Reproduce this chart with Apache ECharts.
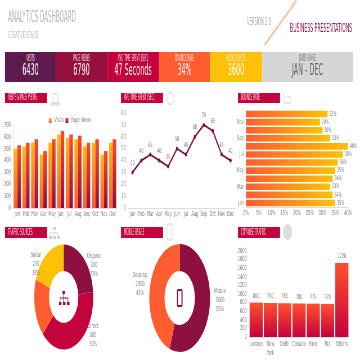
<!DOCTYPE html>
<html><head><meta charset="utf-8">
<style>
html,body{margin:0;padding:0;width:360px;height:360px;overflow:hidden;background:#fff}
#c{width:640px;height:360px;transform:scaleX(0.5625);transform-origin:0 0}
</style>
<script src="https://cdn.jsdelivr.net/npm/echarts@6/dist/echarts.min.js"></script>
</head><body><div id="c"></div>
<script>
const months=['Jan','Feb','Mar','Apr','May','Jun','Jul','Aug','Sep','Oct','Nov','Dec'];
const visits=[500,520,550,450,550,620,590,580,520,550,450,550];
const pageViews=[530,550,580,480,580,650,620,610,550,580,480,580];
const avgTime=[30,40,45,40,35,50,45,60,70,65,45,40];
const bounce=[35,34,33,34,35,36,38,40,33,30,29,32];
const sourceNames=['Organic','Direct','Referral','Social'];
const sourceValues=[300,500,230,250];
const sourceShares=[23,39,18,19];
const mobileNames=['Mobile','Desktop'];
const mobileValues=[3600,2900];
const mobileShares=[55,45];
const cities=['London','New York','Delhi','Canada','Paris','Rio','Others'];
const cityValues=[800,790,785,780,775,770,1720];
const kpiLabels=['VISITS','PAGE VIEWS','AVG TIME SPENT (SEC)','BOUNCE RATE','MOBILE VISITS','DATE RANGE'];
const kpiValues=['6430','6790','47 Seconds','34%','3600','JAN - DEC'];
const kpiColors=['#5e1a4c','#96103f','#c4023c','#ff5c30','#ffc107','#d6d6d6'];

const S=x=>x/0.5625; // real px -> design px
const F='"Liberation Sans Narrow", "DejaVu Sans Condensed", sans-serif';
const G='#808080';
const grad=(x,y,x2,y2,a,b)=>new echarts.graphic.LinearGradient(x,y,x2,y2,[{offset:0,color:a},{offset:1,color:b}]);
const plain=v=>String(v);
const axisBase={axisLine:{show:true,lineStyle:{color:'#ddd'}},axisTick:{show:false},splitLine:{show:false},
  axisLabel:{color:G,fontSize:7,margin:4,fontFamily:F,formatter:plain}};
const xLabel={color:G,fontSize:7,margin:3,fontFamily:F,interval:0};
const gr=[];
const T=(x,y,t,fs,c,sx,extra)=>gr.push({type:'text',x:S(x),y:y,scaleX:sx,silent:true,style:Object.assign({text:t,fontSize:fs,fill:c,fontFamily:F,align:'left',verticalAlign:'middle'},extra||{})});
const R=(x,y,w,h,c)=>gr.push({type:'rect',shape:{x:S(x),y:y,width:S(w),height:h},style:{fill:c},silent:true});
const stroke=(c)=>({fill:'none',stroke:c,lineWidth:1});

T(8,18,'ANALYTICS DASHBOARD',15,'#b8b8b8',0.74);
T(8,36,'CREATIVE VENUS',9,'#b8b8b8',0.77);
T(247,22,'VERSION 2.0',10,'#aaa',0.74);
T(290,29,'BUSINESS PRESENTATIONS',12.5,'#8c1a50',0.73);
gr.push({type:'line',shape:{x1:S(264),y1:45,x2:S(296),y2:0},style:{stroke:'#f2a63c',lineWidth:1},silent:true});
gr.push({type:'line',shape:{x1:S(265),y1:45,x2:S(297),y2:1},style:{stroke:'#c4586a',lineWidth:0.6},silent:true});

const kx=[5,56,107,159,210,262,353];
kpiLabels.forEach((l,i)=>{
  R(kx[i],52,kx[i+1]-kx[i],30,kpiColors[i]);
  const mid=(kx[i]+kx[i+1])/2, dark=i===5;
  T(mid,59,l,8,dark?'#777':'#f6e3e3',0.66,{align:'center'});
  T(mid,71.5,kpiValues[i],15,dark?'#666':'#fff',0.85,{align:'center'});
});
[[5,93,'VISITS & PAGE VIEWS',42,10],[121,93,'AVG TIME SPENT (SEC.)',42,10],[238,93,'BOUNCE RATE',42,10],
 [5,227,'TRAFFIC SOURCES',42,11],[121,227,'MOBILE USAGE',42,11],[238,227,'CITY-WISE TRAFFIC',42,11]].forEach(h=>{
  R(h[0],h[1],h[3],h[4],'#c4023c');
  T(h[0]+3,h[1]+h[4]/2,h[2],8,'#fbe3e3',0.66);
});
// small header icons
const L='#cfcfcf';
gr.push({type:'rect',shape:{x:S(53),y:94,width:S(5),height:9},style:stroke(L),silent:true});
gr.push({type:'rect',shape:{x:S(51),y:103,width:S(9),height:2},style:stroke(L),silent:true});
gr.push({type:'ellipse',shape:{cx:S(170.5),cy:98.5,rx:S(3.5),ry:6},style:stroke(L),silent:true});
gr.push({type:'polyline',shape:{points:[[S(284),93],[S(284),103],[S(291),103],[S(291),98],[S(287),96]]},style:stroke(L),silent:true});
// grey org chart icon
gr.push({type:'rect',shape:{x:S(53),y:227,width:S(3),height:3},style:{fill:L},silent:true});
[50,54,58].forEach(x=>gr.push({type:'rect',shape:{x:S(x-1),y:236,width:S(3),height:3},style:{fill:L},silent:true}));
gr.push({type:'polyline',shape:{points:[[S(50),236],[S(50),233],[S(58),233],[S(58),236]]},style:stroke(L),silent:true});
// grey phone icon
gr.push({type:'rect',shape:{x:S(167),y:224,width:S(5),height:16,r:1},style:stroke(L),silent:true});
// fingerprint
gr.push({type:'ellipse',shape:{cx:S(287.5),cy:232,rx:S(4.5),ry:8},style:{fill:'#dedede'},silent:true});
// donut centre icons
gr.push({type:'rect',shape:{x:S(62.5),y:291,width:S(2.5),height:3},style:{fill:'#b5003c'},silent:true});
[59,63,67].forEach(x=>gr.push({type:'rect',shape:{x:S(x),y:302,width:S(2.5),height:3},style:{fill:'#8c1040'},silent:true}));
gr.push({type:'polyline',shape:{points:[[S(60),302],[S(60),298],[S(68),298],[S(68),302]]},style:{fill:'none',stroke:'#8c1040',lineWidth:1},silent:true});
gr.push({type:'line',shape:{x1:S(63.7),y1:294,x2:S(63.7),y2:302},style:{stroke:'#8c1040',lineWidth:1},silent:true});
gr.push({type:'rect',shape:{x:S(177.5),y:290,width:S(4.5),height:16,r:1},style:{fill:'none',stroke:'#8c1040',lineWidth:2},silent:true});

const pieLabel=(shares)=>({show:true,position:'outside',color:G,fontSize:7,lineHeight:9,fontFamily:F,align:'center',
  formatter:p=>p.name+'\n'+p.value+'\n'+shares[p.dataIndex]+'%'});
const sourceLabelSpots=[[94,265],[93,335],[32,324],[36,264]];
const mobileLabelSpots=[[220,300],[140,284]];
const placeLabels=spots=>p=>({x:S(spots[p.dataIndex][0]),y:spots[p.dataIndex][1],align:'center',verticalAlign:'middle'});

const option={
  animation:false,
  backgroundColor:'#fff',
  textStyle:{fontFamily:F},
  legend:{top:112,left:S(46),itemWidth:5,itemHeight:5,itemGap:3,icon:'rect',
    textStyle:{color:G,fontSize:7,fontFamily:F},data:['Visits','Page Views']},
  grid:[
    {left:S(13),top:125,width:S(104),height:83},
    {left:S(128),top:113,width:S(107),height:95},
    {left:S(246),top:110,width:S(102),height:97},
    {left:S(249),top:251,width:S(100),height:86}
  ],
  xAxis:[
    Object.assign({},axisBase,{gridIndex:0,type:'category',data:months,axisLabel:xLabel}),
    Object.assign({},axisBase,{gridIndex:1,type:'category',data:months,axisLabel:xLabel}),
    Object.assign({},axisBase,{gridIndex:2,type:'value',min:0,max:40,interval:5,axisLabel:{color:G,fontSize:7,margin:3,fontFamily:F,formatter:'{value}%'}}),
    Object.assign({},axisBase,{gridIndex:3,type:'category',data:cities,axisLabel:{color:G,fontSize:7,lineHeight:9,margin:3,fontFamily:F,interval:0,
      formatter:v=>v.replace(' ','\n')}})
  ],
  yAxis:[
    Object.assign({},axisBase,{gridIndex:0,type:'value',min:0,max:700,interval:100}),
    Object.assign({},axisBase,{gridIndex:1,type:'value',min:0,max:80,interval:10,axisLine:{show:false}}),
    Object.assign({},axisBase,{gridIndex:2,type:'category',data:months,axisLabel:{color:G,fontSize:7,margin:4,fontFamily:F,interval:1}}),
    Object.assign({},axisBase,{gridIndex:3,type:'value',min:0,max:2000,interval:200,axisLine:{show:false}})
  ],
  series:[
    {name:'Visits',type:'bar',xAxisIndex:0,yAxisIndex:0,data:visits,barGap:'0%',barCategoryGap:'18%',
      itemStyle:{color:grad(0,0,0,1,'#ffb810','#ff5c30')}},
    {name:'Page Views',type:'bar',xAxisIndex:0,yAxisIndex:0,data:pageViews,
      itemStyle:{color:grad(0,0,0,1,'#ff4a28','#8c1040')}},
    {name:'Avg Time',type:'line',xAxisIndex:1,yAxisIndex:1,data:avgTime,symbol:'circle',symbolSize:4,
      lineStyle:{color:'#7d1040',width:2},itemStyle:{color:'#7d1040'},
      label:{show:true,position:'top',distance:4,color:G,fontSize:6.5,fontFamily:F}},
    {name:'Bounce',type:'bar',xAxisIndex:2,yAxisIndex:2,data:bounce,barCategoryGap:'18%',
      itemStyle:{color:grad(0,0,1,0,'#ff5c30','#ffc107')},
      label:{show:true,position:'right',distance:3,color:G,fontSize:6.5,fontFamily:F,formatter:'{c}%'}},
    {name:'City',type:'bar',xAxisIndex:3,yAxisIndex:3,data:cityValues,barCategoryGap:'8%',
      itemStyle:{color:grad(0,0,0,1,'#ff5030','#c4023c')},
      label:{show:true,position:'top',distance:3,color:G,fontSize:6.5,fontFamily:F}},
    {name:'Sources',type:'pie',center:[S(63.7),297],radius:[26,52.5],startAngle:90,clockwise:true,
      label:pieLabel(sourceShares),labelLine:{show:false},labelLayout:placeLabels(sourceLabelSpots),
      data:sourceNames.map((n,i)=>({name:n,value:sourceValues[i],itemStyle:{color:['#8c1040','#c4023c','#ff5c30','#ffc107'][i]}}))},
    {name:'Mobile',type:'pie',center:[S(179.7),298],radius:[27,54],startAngle:90,clockwise:true,
      label:pieLabel(mobileShares),labelLine:{show:false},labelLayout:placeLabels(mobileLabelSpots),
      data:mobileNames.map((n,i)=>({name:n,value:mobileValues[i],itemStyle:{color:['#8c1040','#ff5c30'][i]}}))}
  ],
  graphic:gr
};
echarts.init(document.getElementById('c'),null,{renderer:'canvas',width:640,height:360}).setOption(option);
</script></body></html>
